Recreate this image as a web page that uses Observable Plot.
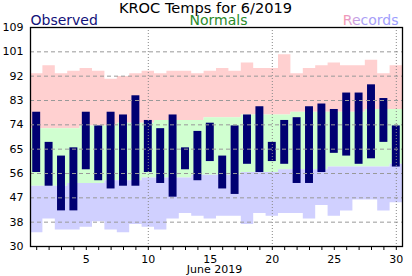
<!DOCTYPE html>
<html>
<head>
<meta charset="utf-8">
<script src="https://cdn.jsdelivr.net/npm/d3@7"></script>
<script src="https://cdn.jsdelivr.net/npm/@observablehq/plot@0.6"></script>
<style>
  html, body { margin: 0; padding: 0; background: white; }
</style>
</head>
<body>
<div id="chart"></div>
<script>
// ---- data ----
const title = "KROC Temps for 6/2019";
const xLabel = "June 2019";
const days = [1,2,3,4,5,6,7,8,9,10,11,12,13,14,15,16,17,18,19,20,21,22,23,24,25,26,27,28,29,30];
const obsHigh = [79,68,63,66,79,74,79,78,85,76,73,78,66,72,75,63,74,78,81,68,76,77,81,82,80,86,86,89,84,74];
const obsLow  = [57,52,43,43,58,54,51,52,52,57,53,48,58,54,61,51,49,60,57,61,60,53,53,57,64,63,60,62,68,59];
const normHigh = [73,73,73,73,74,74,74,75,75,75,76,76,76,76,77,77,77,78,78,78,78,79,79,79,79,79,79,80,80,80];
const normLow  = [52,52,52,53,53,53,54,54,54,55,55,55,55,56,56,56,56,57,57,57,58,58,58,58,59,59,59,59,59,60];
const recHigh  = [93,96,93,94,95,94,91,92,93,94,93,94,94,93,94,95,94,97,95,95,100,93,95,96,97,96,96,98,93,96];
const recLow   = [35,40,36,36,37,39,36,35,38,37,36,40,42,41,40,41,41,38,42,41,42,42,40,45,41,43,47,47,43,46];
const yTicks      = [30, 38.88, 47.76, 56.64, 65.52, 74.4, 83.28, 92.16, 101.04, 109.92];
const yTickLabels = ["30","38","47","56","65","74","83","92","101","109"];
const xTickLabels = [5,10,15,20,25,30];
const xGridDays   = [10,20,30];
const legend = ["Observed", "Normals", "Records"];

// ---- tables built from the arrays ----
const obs = days.map((d, i) => ({day: d, high: obsHigh[i], low: obsLow[i]}));
// step table: each day spans [d-0.5, d+0.5]; last edge repeats the last day
const steps = days.map((d, i) => ({x: d - 0.5, nh: normHigh[i], nl: normLow[i], rh: recHigh[i], rl: recLow[i]}));
steps.push({...steps[steps.length - 1], x: days[days.length - 1] + 0.5});

const chart = Plot.plot({
  width: 412,
  height: 276,
  marginTop: 27,
  marginBottom: 30,
  marginLeft: 30,
  marginRight: 10,
  style: {fontFamily: "DejaVu Sans", fontSize: "11px", background: "white", color: "black", overflow: "visible"},
  x: {domain: [0.5, 30.5], label: null},
  y: {domain: [30, 109.92], label: null},
  marks: [
    Plot.areaY(steps, {x: "x", y1: "nh", y2: "rh", fill: "#ffd0d0", curve: "step-after"}),
    Plot.areaY(steps, {x: "x", y1: "nl", y2: "nh", fill: "#d0ffd0", curve: "step-after"}),
    Plot.areaY(steps, {x: "x", y1: "rl", y2: "nl", fill: "#d0d0ff", curve: "step-after"}),
    Plot.rect(obs, {x1: d => d.day - 0.32, x2: d => d.day + 0.32, y1: "low", y2: "high", fill: "#000072"}),
    Plot.ruleY(yTicks.slice(1, -1), {stroke: "#999", strokeWidth: 1, strokeDasharray: "4,3"}),
    Plot.ruleX(xGridDays, {stroke: "#888", strokeWidth: 1, strokeDasharray: "1,2"}),
    Plot.axisX({ticks: days, tickSize: 4, tickPadding: 5, fontSize: 11,
      tickFormat: d => xTickLabels.includes(d) ? String(d) : ""}),
    Plot.axisY({ticks: yTicks, tickSize: 0, tickPadding: 7, fontSize: 11,
      tickFormat: d => yTickLabels[yTicks.indexOf(d)]}),
    Plot.frame({stroke: "black", strokeWidth: 1.3}),
    Plot.text([title], {frameAnchor: "top", lineAnchor: "middle", dy: -19.6, dx: -11, fontSize: 14.6, fill: "black"}),
    Plot.text([legend[0]], {frameAnchor: "top-left", lineAnchor: "middle", textAnchor: "start", dy: -7.3, dx: 0, fontSize: 14, fill: "#12127a"}),
    Plot.text([legend[1]], {frameAnchor: "top", lineAnchor: "middle", textAnchor: "start", dy: -7.3, dx: -27, fontSize: 14, fill: "#2a8a2a"}),
    Plot.text([legend[2]], {frameAnchor: "top-right", lineAnchor: "middle", textAnchor: "end", dy: -7.3, dx: -4, fontSize: 14, fill: "#b8a0ea", className: "rec-label"}),
    Plot.text([xLabel], {frameAnchor: "bottom", lineAnchor: "middle", dy: 23.3, dx: -2, fontSize: 11, fill: "black"})
  ]
});

document.getElementById("chart").appendChild(chart);

// gradient for the "Records" legend word (pink -> lavender), spanning the word's own box
const NS = "http://www.w3.org/2000/svg";
const defs = document.createElementNS(NS, "defs");
const grad = document.createElementNS(NS, "linearGradient");
grad.setAttribute("id", "recGrad");
grad.setAttribute("gradientUnits", "userSpaceOnUse");
[["0", "#fb94aa"], ["0.15", "#dc9ed4"], ["0.35", "#ad9ff4"], ["1", "#9c9cff"]].forEach(([o, c]) => {
  const s = document.createElementNS(NS, "stop");
  s.setAttribute("offset", o); s.setAttribute("stop-color", c);
  grad.appendChild(s);
});
defs.appendChild(grad);
chart.insertBefore(defs, chart.firstChild);
const recText = chart.querySelector(".rec-label text");
if (recText) {
  const bb = recText.getBBox();
  grad.setAttribute("x1", bb.x); grad.setAttribute("x2", bb.x + bb.width);
  grad.setAttribute("y1", bb.y); grad.setAttribute("y2", bb.y);
  recText.setAttribute("fill", "url(#recGrad)");
}
</script>
</body>
</html>
